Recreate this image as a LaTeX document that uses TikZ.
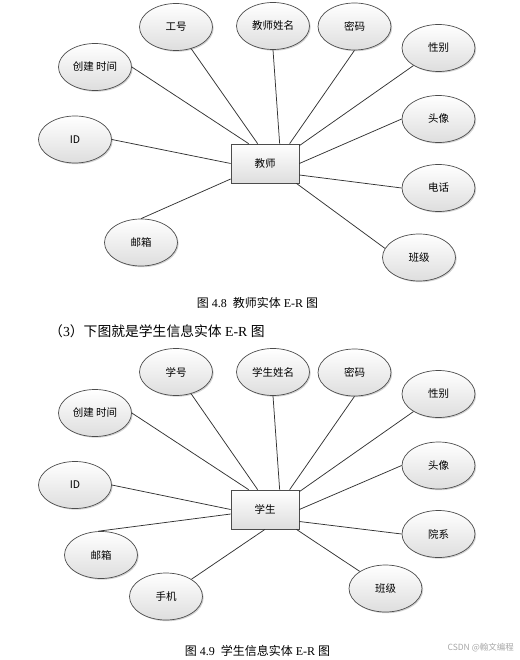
\documentclass[tikz,border=0pt]{standalone}
\usepackage{fontspec}
\setmainfont{Liberation Serif}
\newfontfamily\cjk{Noto Sans CJK SC}
\usetikzlibrary{shapes.geometric,shadows}

\begin{document}
\begin{tikzpicture}[
    x=1pt, y=-1pt,
    attr/.style={ellipse, draw=black!70, line width=0.7pt, minimum width=73pt, minimum height=47pt, inner sep=0pt, top color=white, bottom color=black!13, drop shadow={shadow xshift=1.2pt, shadow yshift=-1.2pt, fill=black!35}, font=\cjk\fontsize{10.5}{12}\selectfont},
    entity/.style={rectangle, draw=black!70, line width=0.7pt, minimum width=68pt, minimum height=39pt, inner sep=0pt, top color=white, bottom color=black!13, drop shadow={shadow xshift=1.2pt, shadow yshift=-1.2pt, fill=black!35}, font=\cjk\fontsize{10.5}{12}\selectfont},
    link/.style={draw=black!80, line width=0.75pt}
]
\useasboundingbox (0,0) rectangle (519,660);

% teacher entity
\node[entity] (t) at (265,163.5) {教师};
\node[attr] (t-gh) at (176,27) {工号};
\node[attr] (t-xm) at (273,26) {教师姓名};
\node[attr] (t-mm) at (354.5,26.5) {密码};
\node[attr] (t-xb) at (438.5,48) {性别};
\node[attr] (t-tx) at (438.5,119) {头像};
\node[attr] (t-dh) at (438.5,188) {电话};
\node[attr] (t-bj) at (419,257.5) {班级};
\node[attr] (t-yx) at (141,242.5) {邮箱};
\node[attr] (t-id) at (75,139.5) {ID};
\node[attr] (t-sj) at (95,67) {创建 时间};
\draw[link] (t-sj.east) -- ([xshift=18pt]t.north west);
\draw[link] (t-gh) -- ([xshift=27pt]t.north west);
\draw[link] (t-xm.south) -- ([xshift=49pt]t.north west);
\draw[link] (t-mm.south) -- ([xshift=59pt]t.north west);
\draw[link] (t-xb) -- ([yshift=-2pt]t.north east);
\draw[link] (t-tx.west) -- (t.east);
\draw[link] (t-dh.west) -- ([yshift=-11.5pt]t.east);
\draw[link] (t-bj.165) -- ([xshift=-3pt]t.south east);
\draw[link] (t-yx.north) -- ([yshift=-15.5pt]t.west);
\draw[link] (t-id.east) -- (t.west);

\node[font=\fontsize{12}{14}\selectfont] (cap1) at (257.5,303) {{\cjk 图} 4.8\ \ {\cjk 教师实体} E-R {\cjk 图}};
\node[anchor=west, inner sep=0pt, font=\fontsize{13.8}{16}\selectfont] (intro) at (49,331.5) {{\cjk （}3{\cjk ）下图就是学生信息实体} E-R {\cjk 图}};

% student entity
\node[entity] (s) at (265,509.5) {学生};
\node[attr] (s-xh) at (176,372) {学号};
\node[attr] (s-xm) at (273,372) {学生姓名};
\node[attr] (s-mm) at (354.5,372.5) {密码};
\node[attr] (s-xb) at (438.5,394) {性别};
\node[attr] (s-tx) at (438.5,465.5) {头像};
\node[attr] (s-yx2) at (438.5,534) {院系};
\node[attr] (s-bj) at (385.5,588.5) {班级};
\node[attr] (s-sj2) at (166,596.5) {手机};
\node[attr] (s-yx) at (101,555) {邮箱};
\node[attr] (s-id) at (75,485) {ID};
\node[attr] (s-sj) at (95,413) {创建 时间};
\draw[link] (s-sj.east) -- ([xshift=18pt]s.north west);
\draw[link] (s-xh) -- ([xshift=27pt]s.north west);
\draw[link] (s-xm.south) -- ([xshift=49pt]s.north west);
\draw[link] (s-mm.south) -- ([xshift=59pt]s.north west);
\draw[link] (s-xb) -- ([yshift=-2pt]s.north east);
\draw[link] (s-tx.west) -- (s.east);
\draw[link] (s-yx2.west) -- ([yshift=-12pt]s.east);
\draw[link] (s-bj) -- ([xshift=-3pt]s.south east);
\draw[link] (s-sj2) -- (s.south);
\draw[link] (s-yx.97) -- ([yshift=-4.5pt]s.west);
\draw[link] (s-id.east) -- (s.west);

\node[font=\fontsize{12}{14}\selectfont] (cap2) at (257.5,650.5) {{\cjk 图} 4.9\ \ {\cjk 学生信息实体} E-R {\cjk 图}};
\node[anchor=east, inner sep=0pt, text=black!35, font=\cjk\fontsize{8.5}{10}\selectfont] (mark) at (514,648) {CSDN @翰文编程};
\end{tikzpicture}
\end{document}
